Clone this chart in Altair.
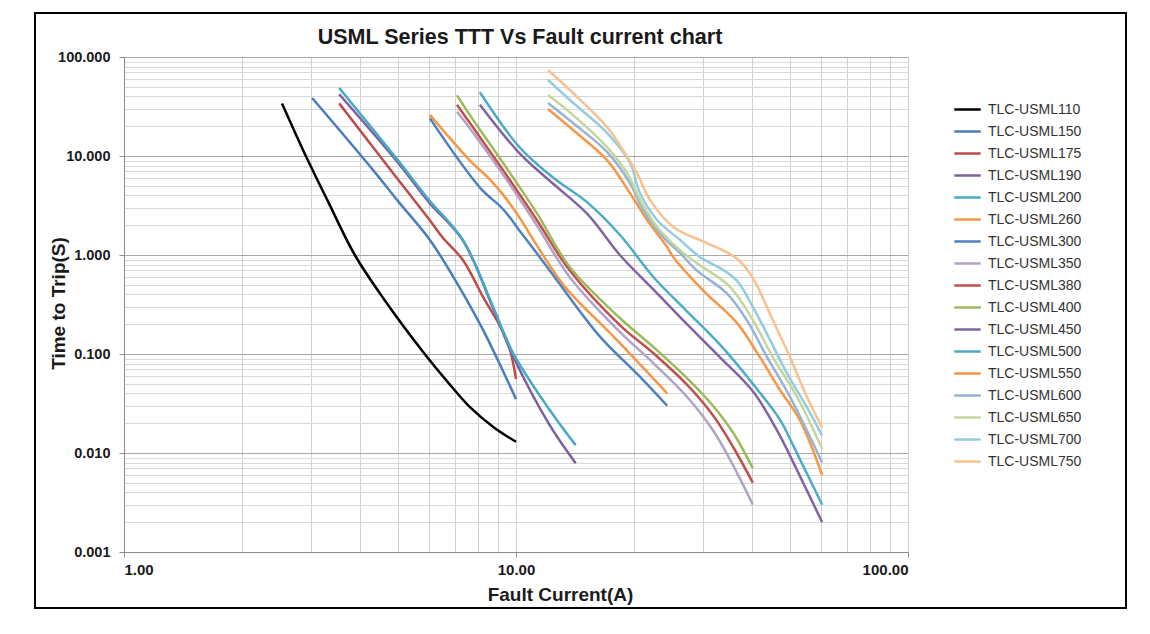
import altair as alt
import pandas as pd

chart_title = "USML Series TTT Vs Fault current chart"
series_names = ["TLC-USML110", "TLC-USML150", "TLC-USML175", "TLC-USML190", "TLC-USML200",
                "TLC-USML260", "TLC-USML300", "TLC-USML350", "TLC-USML380", "TLC-USML400",
                "TLC-USML450", "TLC-USML500", "TLC-USML550", "TLC-USML600", "TLC-USML650",
                "TLC-USML700", "TLC-USML750"]
series_colors = ["#000000", "#4A7EBB", "#BE4B48", "#7D5FA0", "#46AAC4",
                 "#F79646", "#4F81BD", "#B3A2C7", "#C0504D", "#9BBB59",
                 "#8064A2", "#4BACC6", "#F79646", "#95B3D7", "#C3D69B",
                 "#93CDDD", "#FAC090"]

# Fault current (A) and time to trip (s) per series
x110 = [2.53, 2.91, 3.3, 3.88, 4.6, 5.85, 6.7, 7.63, 8.8, 10.0]
y110 = [34, 10, 3.6, 1.0, 0.36, 0.1, 0.052, 0.029, 0.018, 0.013]
x150 = [3.02, 4.32, 5.0, 6.03, 7.07, 8.24, 10.0]
y150 = [38.5, 7.2, 3.5, 1.42, 0.52, 0.175, 0.035]
x175 = [3.54, 4.86, 6.0, 6.5, 7.32, 8.24, 9.48, 10.0]
y175 = [34, 6.7, 2.3, 1.5, 0.89, 0.377, 0.138, 0.056]
x190 = [3.54, 4.97, 6.0, 7.32, 8.74, 9.83, 12.2, 14.2]
y190 = [42, 8.8, 3.4, 1.4, 0.29, 0.095, 0.019, 0.0079]
x200 = [3.54, 4.97, 6.0, 7.32, 8.74, 9.83, 12.2, 14.2]
y200 = [48.6, 9.3, 3.6, 1.42, 0.30, 0.102, 0.027, 0.012]
x260 = [6.03, 7.63, 8.5, 9.3, 10.2, 11.3, 12.2, 13.5, 18.1, 24.3]
y260 = [26, 9.0, 6.0, 4.0, 2.4, 1.25, 0.78, 0.45, 0.138, 0.040]
x300 = [6.03, 8.09, 9.27, 10.4, 11.5, 12.7, 16.4, 20.7, 24.3]
y300 = [24, 4.8, 2.9, 1.6, 0.95, 0.56, 0.149, 0.059, 0.030]
x350 = [7.07, 7.63, 9.27, 11.3, 13.7, 18.4, 22.4, 27.3, 31.8, 35.8, 40.2]
y350 = [28, 19, 6.5, 2.0, 0.6, 0.167, 0.081, 0.037, 0.017, 0.0075, 0.003]
x380 = [7.07, 7.63, 9.27, 11.3, 13.7, 18.4, 22.4, 27.3, 31.8, 35.8, 40.2]
y380 = [33, 21.5, 7.2, 2.26, 0.70, 0.196, 0.102, 0.049, 0.024, 0.0115, 0.005]
x400 = [7.07, 7.63, 9.27, 11.3, 13.7, 18.4, 22.4, 27.3, 31.8, 35.8, 40.2]
y400 = [41, 25.9, 8.5, 2.65, 0.76, 0.231, 0.118, 0.057, 0.030, 0.016, 0.007]
x450 = [8.09, 10.2, 12.4, 15.2, 18.4, 22.4, 27.3, 33.1, 40.2, 46.3, 51.0, 60.4]
y450 = [33, 10.7, 5.3, 2.6, 1.0, 0.45, 0.2, 0.093, 0.042, 0.017, 0.008, 0.002]
x500 = [8.09, 10.2, 12.4, 15.2, 18.4, 22.4, 27.3, 33.1, 40.2, 47.2, 50.9, 60.4]
y500 = [44, 12.3, 6.1, 3.4, 1.6, 0.6, 0.27, 0.125, 0.05, 0.0215, 0.012, 0.003]
x550 = [12.07, 13.98, 17.07, 19.54, 21.6, 24.3, 25.2, 30.0, 36.6, 41.9, 47.2, 53.0, 60.4]
y550 = [29.8, 18.3, 9.1, 4.2, 2.26, 1.20, 0.95, 0.44, 0.206, 0.093, 0.043, 0.0215, 0.006]
x600 = [12.07, 13.98, 17.07, 19.54, 21.1, 23.7, 26.2, 28.9, 34.5, 38.8, 43.7, 50.0, 60.4]
y600 = [34.3, 21.5, 11.0, 5.3, 2.85, 1.52, 1.05, 0.70, 0.41, 0.22, 0.093, 0.037, 0.008]
x650 = [12.07, 13.98, 17.07, 19.2, 20.72, 22.9, 26.2, 28.9, 35.2, 40.2, 45.2, 52.1, 60.4]
y650 = [41.3, 25.9, 12.3, 6.7, 3.6, 1.92, 1.12, 0.83, 0.475, 0.22, 0.093, 0.037, 0.011]
x700 = [12.07, 13.98, 17.07, 19.54, 20.72, 22.9, 26.2, 29.5, 33.5, 36.6, 40.2, 44.5, 49.1, 55.2, 60.4]
y700 = [58.6, 34.5, 17.1, 8.5, 4.2, 2.26, 1.42, 0.95, 0.72, 0.55, 0.30, 0.138, 0.064, 0.029, 0.015]
x750 = [12.07, 13.98, 17.07, 18.75, 20.35, 21.97, 25.2, 30.7, 33.1, 35.2, 37.3, 39.2, 41.2, 45.2, 50.0, 55.2, 60.4]
y750 = [74, 43.3, 19.6, 11.5, 6.7, 3.6, 1.92, 1.32, 1.15, 1.02, 0.86, 0.68, 0.49, 0.22, 0.093, 0.037, 0.018]

series_x = [x110, x150, x175, x190, x200, x260, x300, x350, x380, x400,
            x450, x500, x550, x600, x650, x700, x750]
series_y = [y110, y150, y175, y190, y200, y260, y300, y350, y380, y400,
            y450, y500, y550, y600, y650, y700, y750]

# tick values (log scale minor/major)
decade_steps = [1, 2, 3, 4, 5, 6, 7, 8, 9]
y_decades = [0.001, 0.01, 0.1, 1, 10]
x_decades = [1, 10]
y_ticks = [round(d * m, 6) for d in y_decades for m in decade_steps] + [100]
x_ticks = [d * m for d in x_decades for m in decade_steps] + [100]

rows = []
for i, (name, xs, ys) in enumerate(zip(series_names, series_x, series_y)):
    for j, (xv, yv) in enumerate(zip(xs, ys)):
        rows.append({"series": name, "order": i, "pt": j, "current": xv, "time": yv})
df = pd.DataFrame(rows)

FONT = "Liberation Sans"
is_major = "abs(log(datum.value)/LN10 - round(log(datum.value)/LN10)) < 0.001"

lines = alt.Chart(df).mark_line(strokeWidth=2.5, interpolate="catmull-rom", clip=True).encode(
    x=alt.X("current:Q",
            scale=alt.Scale(type="log", domain=[1, 100], nice=False),
            axis=alt.Axis(values=x_ticks, title="Fault Current(A)",
                          labelExpr=f"{is_major} ? format(datum.value, '.2f') : ''",
                          labelFont=FONT, labelFontSize=15, labelFontWeight="bold",
                          labelColor="#1a1a1a", labelPadding=5,
                          grid=True, gridColor="#d0d0d0", gridWidth=1,
                          tickSize=5, tickColor="#8c8c8c",
                          tickOpacity={"condition": {"test": is_major, "value": 1}, "value": 0},
                          domainColor="#8c8c8c",
                          titleFont=FONT, titleFontSize=19, titleFontWeight="bold",
                          titleColor="#1a1a1a", titleX=436, titleY=33)),
    y=alt.Y("time:Q",
            scale=alt.Scale(type="log", domain=[0.001, 100], nice=False),
            axis=alt.Axis(values=y_ticks, title="Time to Trip(S)",
                          labelExpr=f"{is_major} ? format(datum.value, '.3f') : ''",
                          labelFont=FONT, labelFontSize=14.5, labelFontWeight="bold",
                          labelColor="#1a1a1a", labelPadding=9,
                          grid=True, gridWidth=1,
                          gridColor={"condition": {"test": is_major, "value": "#a6a6a6"}, "value": "#d9d9d9"},
                          tickSize=5, tickColor="#8c8c8c",
                          tickOpacity={"condition": {"test": is_major, "value": 1}, "value": 0},
                          domainColor="#8c8c8c",
                          titleFont=FONT, titleFontSize=19, titleFontWeight="bold",
                          titleColor="#1a1a1a", titleX=-56, titleY=246)),
    color=alt.Color("series:N", sort=series_names,
                    scale=alt.Scale(domain=series_names, range=series_colors),
                    legend=alt.Legend(title=None, orient="none", legendX=829, legendY=38,
                                      symbolType="stroke", symbolStrokeWidth=2.5,
                                      symbolSize=700, labelFont=FONT, labelFontSize=14,
                                      labelColor="#333333", rowPadding=-4, labelOffset=6)),
    order=alt.Order("pt:Q"),
    detail="series:N",
)

frame = alt.Chart(df).mark_rect(fill=None, stroke="#000000", strokeWidth=2, clip=False).encode(
    x=alt.value(-89), x2=alt.value(1002), y=alt.value(-44), y2=alt.value(551)
)

title_df = pd.DataFrame({"label": [chart_title]})
title = alt.Chart(title_df).mark_text(font=FONT, fontSize=21.5, fontWeight="bold", color="#1a1a1a",
                                      align="center", baseline="middle", clip=False).encode(
    text="label:N", x=alt.value(396), y=alt.value(-19)
)

chart = alt.layer(lines, frame, title).properties(
    width=784, height=495,
    padding={"left": 116, "top": 49, "right": 234, "bottom": 70},
    autosize=alt.AutoSizeParams(type="none"),
).configure_view(stroke="#a6a6a6", strokeWidth=1).configure(background="white")

chart.save("out.html", embed_options={"renderer": "svg", "actions": False})
